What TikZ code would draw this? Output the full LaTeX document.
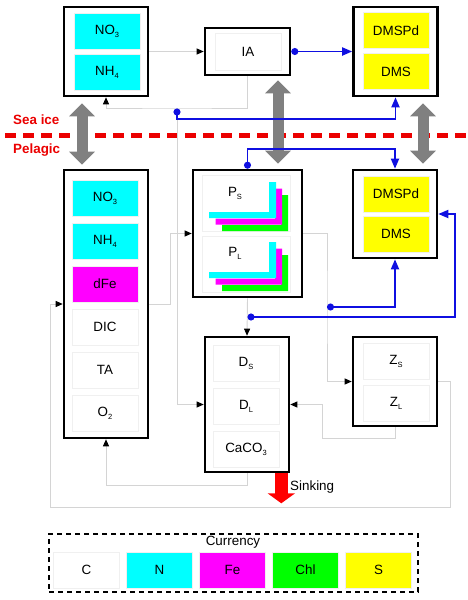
\documentclass[tikz,border=0pt]{standalone}
\usepackage{fontspec}
\setmainfont{Liberation Sans}
\usetikzlibrary{arrows.meta}
\definecolor{flowgray}{RGB}{212,212,212}
\definecolor{dmsblue}{RGB}{15,15,225}
\definecolor{icered}{RGB}{235,0,0}
\definecolor{pipegray}{RGB}{128,128,128}
\definecolor{nitro}{RGB}{0,255,255}
\definecolor{iron}{RGB}{255,0,255}
\definecolor{chl}{RGB}{0,255,0}
\definecolor{sulf}{RGB}{255,255,0}
\newcommand\sbs[1]{\raisebox{-3pt}{\fontsize{7.5}{8}\selectfont #1}}
\tikzset{every node/.style={font=\fontsize{13.4}{15}\selectfont, inner sep=0pt},
  poolbox/.style={draw, line width=2.6pt, minimum width=84pt},
  itembox/.style={draw=black!6, line width=0.6pt, minimum width=66pt, minimum height=36pt},
  flow/.style={flowgray, line width=0.9pt, -{Triangle[length=7pt,width=6pt,color=black]}},
  dms/.style={dmsblue, line width=1.8pt, {Circle[length=7pt]}-{Triangle[length=10pt,width=8pt]}},
  exchange/.style={pipegray, line width=11pt, {Triangle[length=13pt,width=25pt]}-{Triangle[length=13pt,width=25pt]}},
  sink/.style={red, line width=13pt, -{Triangle[length=10pt,width=27pt]}}}

\begin{document}
\begin{tikzpicture}[x=1pt, y=-1pt]
    \useasboundingbox (0,0) rectangle (467,600);
    \draw[icered, line width=5pt, dash pattern=on 11pt off 7pt] (5,135) -- (467,135);
    \node[anchor=west, text=icered, font=\fontsize{13.4}{15}\selectfont\bfseries] (seaice) at (13,120) {Sea ice};
    \node[anchor=west, text=icered, font=\fontsize{13.4}{15}\selectfont\bfseries] (pelagic) at (13,150) {Pelagic};
    % sea ice
    \node[poolbox, minimum height=89pt] (iceN) at (106,51.5) {};
    \node[itembox, fill=nitro] (no3ice) at (107,31) {NO\sbs{3}};
    \node[itembox, fill=nitro] (nh4ice) at (107,72) {NH\sbs{4}};
    \node[poolbox, minimum width=85pt, minimum height=47pt] (ia) at (247.5,51.5) {};
    \node[itembox, minimum height=37pt] (iaalg) at (248,51.5) {IA};
    \node[poolbox, minimum height=89pt] (iceS) at (395.5,51.5) {};
    \node[itembox, fill=sulf] (dmspice) at (396,30.5) {DMSPd};
    \node[itembox, fill=sulf] (dmsice) at (396,71.5) {DMS};
    % pelagic
    \node[poolbox, minimum height=268pt] (pelN) at (106,304) {};
    \foreach \name/\txt/\col [count=\i from 0] in {no3/{NO\sbs{3}}/nitro, nh4/{NH\sbs{4}}/nitro,
        dfe/dFe/iron, dic/DIC/white, ta/TA/white, o2/{O\sbs{2}}/white}
      \node[itembox, fill=\col] (\name) at (105,{198+43*\i}) {\txt};
    \node[poolbox, minimum width=109pt, minimum height=127pt] (phy) at (247.5,233.5) {};
    \node[itembox, minimum width=88pt, minimum height=56pt] (psbox) at (246,203.5) {};
    \node[itembox, minimum width=88pt, minimum height=56pt] (plbox) at (246,264) {};
    \node (ps) at (235,193) {P\sbs{S}};
    \node (pl) at (235,253) {P\sbs{L}};
    \foreach \dy in {0,60}
      \foreach \k/\col in {2/chl,1/iron,0/nitro}
        \fill[\col] ({209+6.5*\k},{218+6.5*\k+\dy}) -- ({276+6*\k},{218+6.5*\k+\dy})
          -- ({276+6*\k},{182+6.5*\k+\dy}) -- ({269+6*\k},{182+6.5*\k+\dy})
          -- ({269+6*\k},{212+6.5*\k+\dy}) -- ({209+6.5*\k},{212+6.5*\k+\dy}) -- cycle;
    \node[poolbox, minimum height=88pt] (pelS) at (395,214) {};
    \node[itembox, fill=sulf] (dmsp) at (396,194) {DMSPd};
    \node[itembox, fill=sulf] (dmsw) at (396,234) {DMS};
    \node[poolbox, minimum height=135pt] (det) at (247,404.5) {};
    \node[itembox] (ds) at (246,363) {D\sbs{S}};
    \node[itembox] (dl) at (246,406) {D\sbs{L}};
    \node[itembox] (caco3) at (246,449) {CaCO\sbs{3}};
    \node[poolbox, minimum height=89pt] (zoo) at (395,381.5) {};
    \node[itembox] (zs) at (396,361) {Z\sbs{S}};
    \node[itembox] (zl) at (396,403.5) {Z\sbs{L}};
    % ice-ocean exchange
    \draw[exchange] ([xshift=-24pt, yshift=-6pt]iceN.south) -- ([xshift=-24pt, yshift=4pt]pelN.north);
    \draw[exchange] ([xshift=30.5pt, yshift=-4pt]ia.south) -- ([xshift=30.5pt, yshift=5pt]phy.north);
    \draw[exchange] ([xshift=27.5pt, yshift=-6pt]iceS.south) -- ([xshift=28pt, yshift=5pt]pelS.north);
    % flows
    \coordinate (iceJ) at (177,108);
    \coordinate (iceDot) at (177,108.5);
    \coordinate (grazeDot) at (327,307);
    \coordinate (sinkDot) at (247.5,317);
    \coordinate (dmsEdge) at (455,214);
    \coordinate (zooBack) at (322,438);
    \coordinate (loopR) at (450,507);
    \coordinate (loopL) at (50,507);
    \coordinate (remin) at (106,485);
    \draw[flow] (iceN.east) -- (ia.west);
    \draw[flow] (ia.south) |- (iceJ) -| (iceN.south);
    \draw[flow] (iceJ) |- (det.west);
    \draw[flow] (pelN.east) -- ++(21,0) |- (phy.west);
    \draw[flow] (phy.east) -| (grazeDot) |- (zoo.west);
    \draw[flow] (phy.south) -- (det.north);
    \draw[flow] (zoo.south) |- (zooBack) |- (det.east);
    \draw[flow] (zoo.east) -| (loopR) -- (loopL) |- (pelN.west);
    \draw[flow] (det.south) |- (remin) -- (pelN.south);
    % DMS production
    \draw[dms] (ia.east) -- (iceS.west);
    \draw[dms] (iceDot) -- ++(0,10.5) -| (iceS.south);
    \draw[dms] (phy.north) -- ++(0,-20) -| (pelS.north);
    \draw[dms] (grazeDot) -| (pelS.south);
    \draw[dms] (sinkDot) -| (dmsEdge) -- (pelS.east);
    % sinking
    \draw[sink] ([xshift=-9pt]det.south east) -- ++(0,30);
    \node[anchor=west] (sinking) at (290,487) {Sinking};
    % legend
    \node[draw, line width=2.5pt, dash pattern=on 5pt off 4pt, minimum width=369pt, minimum height=58pt] (legend) at (233.5,563) {};
    \node (currency) at (233,542) {Currency};
    \foreach \name/\col [count=\i from 0] in {C/white, N/nitro, Fe/iron, Chl/chl, S/sulf}
      \node[itembox, fill=\col] (leg\name) at ({86.5+73*\i},570) {\name};
\end{tikzpicture}
\end{document}
